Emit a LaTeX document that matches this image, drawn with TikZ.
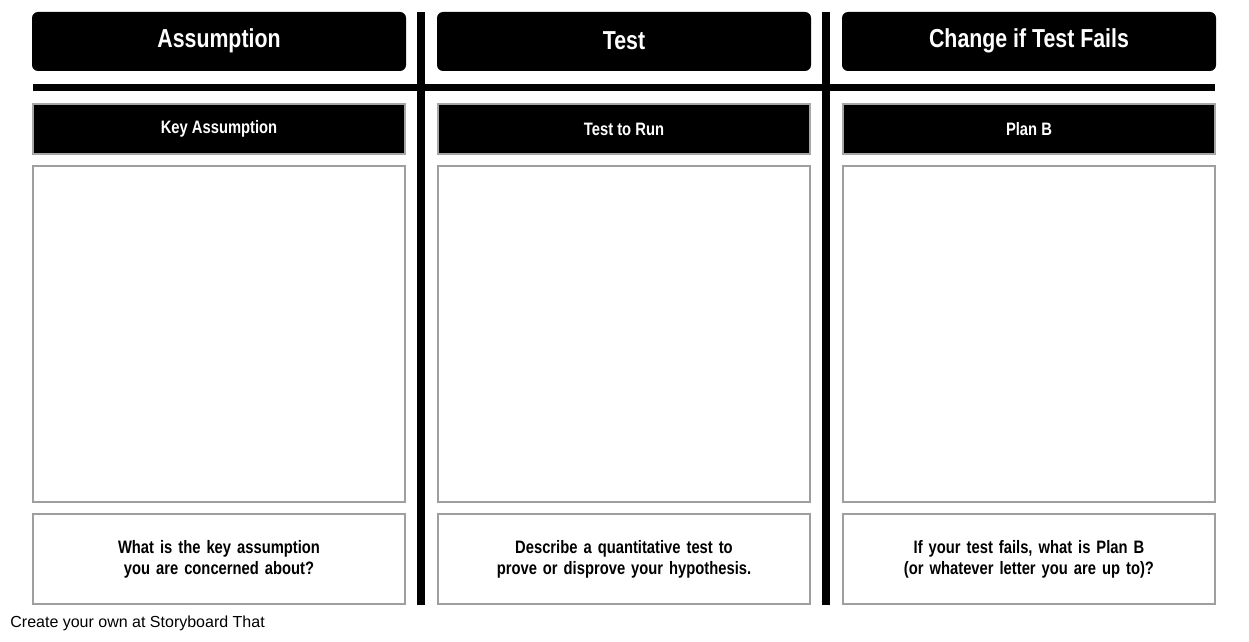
\documentclass[tikz,border=0pt]{standalone}
\usepackage{fontspec}
\setmainfont{Liberation Sans}[FakeStretch=0.82]
\newfontfamily\footfont{Liberation Sans}
\begin{document}
\begin{tikzpicture}[x=0.5pt,y=-0.5pt,
  hdr/.style={fill=black,rounded corners=3pt,text=white,font=\bfseries\fontsize{13}{15}\selectfont},
  sub/.style={fill=black,draw=gray!70,line width=1pt,text=white,font=\bfseries\fontsize{9}{11}\selectfont},
  cell/.style={fill=white,draw=gray!75,line width=1pt},
  qbox/.style={fill=white,draw=gray!75,line width=1pt,font=\bfseries\fontsize{9}{10.5}\selectfont,align=center,text width=170pt}]
\useasboundingbox (0,0) rectangle (1249,642);
\fill[black] (33,84) rectangle (1215,91);
\fill[black] (417,12) rectangle (425,605);
\fill[black] (822,12) rectangle (830,605);
\foreach \x/\h/\s/\q [count=\i] in {32/Assumption/Key Assumption/{What is the key assumption you are concerned about?},437/Test/Test to Run/{Describe a quantitative test to prove or disprove your hypothesis.},842/Change if Test Fails/Plan B/{If your test fails, what is Plan B (or whatever letter you are up to)?}}{
  \fill[hdr] (\x,12) rectangle ++(374,59);
  \node[text=white,font=\bfseries\fontsize{13}{15}\selectfont] (h\i) at (\x+187,41) {\h};
  \draw[sub] (\x+1,104) rectangle ++(372,50);
  \node[text=white,font=\bfseries\fontsize{9}{11}\selectfont] (s\i) at (\x+187,129) {\s};
  \draw[cell] (\x+1,166) rectangle ++(372,336);
  \draw[cell] (\x+1,514) rectangle ++(372,90);
  \node[font=\bfseries\fontsize{9}{10.5}\selectfont,align=center,text width=178pt] (q\i) at (\x+187,559) {\q};
}
\node[anchor=west,font=\footfont\fontsize{8}{10}\selectfont,inner sep=0pt] (foot) at (10,623) {Create your own at Storyboard That};
\end{tikzpicture}
\end{document}
